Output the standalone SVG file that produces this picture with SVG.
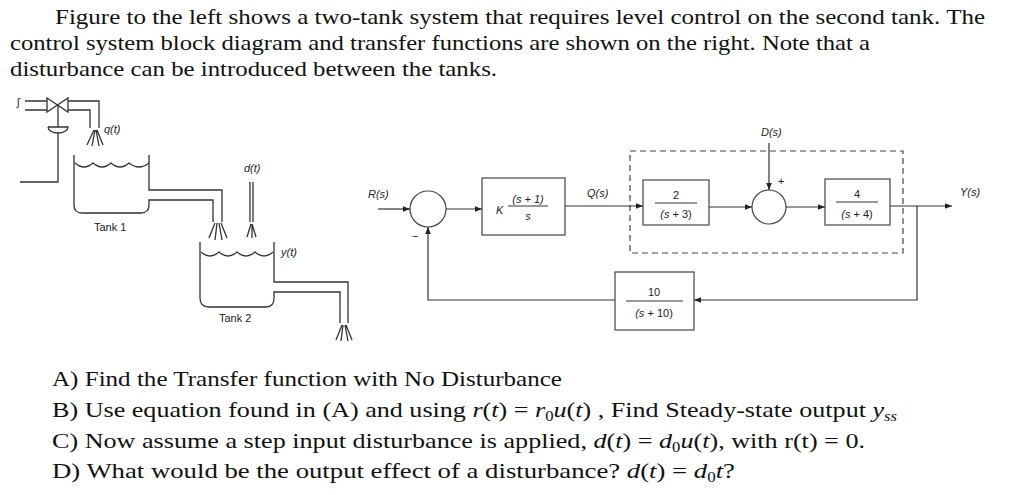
<svg xmlns="http://www.w3.org/2000/svg" width="1024" height="495" viewBox="0 0 1024 495">
<defs>
<marker id="ah" viewBox="0 0 10 10" refX="10" refY="5" markerWidth="7" markerHeight="7" orient="auto" markerUnits="userSpaceOnUse"><path d="M0,1 L10,5 L0,9 z" fill="#222"/></marker>
<style>
.t{font-family:"Liberation Serif",serif;font-size:22px;fill:#111}
.l{font-family:"Liberation Sans",Arial,sans-serif;font-size:11px;fill:#222}
.i{font-style:italic}
.s{stroke:#333;stroke-width:1.3;fill:none}
.b{stroke:#444;stroke-width:1.2;fill:#fff}
.c{stroke:#333;stroke-width:1.2;fill:none}
</style>
</defs>
<rect width="1024" height="495" fill="#fff"/>
<text class="t" x="55" y="24" textLength="930" lengthAdjust="spacingAndGlyphs">Figure to the left shows a two-tank system that requires level control on the second tank. The</text>
<text class="t" x="10" y="50" textLength="860" lengthAdjust="spacingAndGlyphs">control system block diagram and transfer functions are shown on the right. Note that a</text>
<text class="t" x="10" y="76" textLength="487" lengthAdjust="spacingAndGlyphs">disturbance can be introduced between the tanks.</text>

<g id="tanks">
<path class="s" d="M25,101 H47 M25,110 H47"/>
<text class="l" x="17" y="106" font-size="10">ʃ</text>
<path class="s" d="M47,98 L68,112 L68,98 L47,112 Z"/>
<path class="s" d="M68,101 H99 V128 M68,110 H90 V128"/>
<path class="s" d="M58,105 V127 M48,127 H68 A10,6 0 0 1 48,127 M58,133 V182 H20"/>
<path class="s" d="M94,130 L87,145 M95,130 L92,146 M96,130 L99,146 M97,130 L103,145"/>
<text class="l i" x="104" y="133">q(t)</text>
<path class="s" d="M74,155 V205 Q74,213 82,213 H141 Q149,213 149,205 V200 H213 V222 M149,155 V190 H222 V222"/>
<path class="s" d="M75,163 q9,8 18,0 q9,8 18,0 q9,8 18,0 q10,8 20,0"/>
<path class="s" d="M215,223 L209,238 M217,223 L215,240 M219,223 L222,240 M221,223 L227,238"/>
<text class="l" x="94" y="231">Tank 1</text>
<text class="l i" x="244" y="172">d(t)</text>
<path class="s" d="M250,182 V222 M253,182 V222"/>
<path class="s" d="M251,224 L247,237 M252,224 L252,238 M252,224 L256,237"/>
<path class="s" d="M200,242 V298 Q200,307 209,307 H266 Q274,307 274,298 V292 H340 V323 M274,242 V282 H348 V323"/>
<path class="s" d="M201,252 q9,8 18,0 q9,8 18,0 q9,8 18,0 q9,8 18,0"/>
<path class="s" d="M342,325 L336,340 M343,325 L341,341 M345,325 L348,341 M346,325 L352,340"/>
<text class="l i" x="281" y="256">y(t)</text>
<text class="l" x="219" y="322">Tank 2</text>
</g>

<g id="dashed"><rect x="630" y="151" width="273" height="102" fill="none" stroke="#444" stroke-width="1.2" stroke-dasharray="6,4"/></g>
<g id="sum1"><circle class="b" cx="428" cy="209" r="18"/></g>
<g id="K"><rect class="b" x="482" y="178" width="83" height="57"/>
<text class="l i" x="496" y="214" font-size="13">K</text>
<text class="l i" x="528" y="203" text-anchor="middle" font-size="12">(s + 1)</text>
<line x1="508" y1="206" x2="548" y2="206" stroke="#333"/>
<text class="l i" x="528" y="220" text-anchor="middle" font-size="12">s</text></g>
<g id="G1"><rect class="b" x="643" y="180" width="66" height="45"/>
<text class="l" x="676" y="199" text-anchor="middle" font-size="12">2</text>
<line x1="655" y1="203" x2="697" y2="203" stroke="#333"/>
<text class="l" x="676" y="218" text-anchor="middle" font-size="12"><tspan class="i">(s</tspan> + 3)</text></g>
<g id="sum2"><circle class="b" cx="769" cy="207" r="17"/></g>
<g id="G2"><rect class="b" x="825" y="179" width="65" height="46"/>
<text class="l" x="857" y="198" text-anchor="middle" font-size="12">4</text>
<line x1="836" y1="202" x2="878" y2="202" stroke="#333"/>
<text class="l" x="857" y="218" text-anchor="middle" font-size="12"><tspan class="i">(s</tspan> + 4)</text></g>
<g id="H"><rect class="b" x="615" y="272" width="79" height="58"/>
<text class="l" x="654" y="296" text-anchor="middle" font-size="12">10</text>
<line x1="626" y1="301" x2="683" y2="301" stroke="#333"/>
<text class="l" x="654" y="317" text-anchor="middle" font-size="12"><tspan class="i">(s</tspan> + 10)</text></g>

<g id="connectors">
<line class="c" x1="378" y1="209" x2="410" y2="209" marker-end="url(#ah)"/>
<line class="c" x1="446" y1="209" x2="482" y2="209" marker-end="url(#ah)"/>
<line class="c" x1="565" y1="206" x2="643" y2="206" marker-end="url(#ah)"/>
<line class="c" x1="709" y1="207" x2="752" y2="207" marker-end="url(#ah)"/>
<line class="c" x1="786" y1="207" x2="825" y2="207" marker-end="url(#ah)"/>
<line class="c" x1="890" y1="206" x2="952" y2="206" marker-end="url(#ah)"/>
<line class="c" x1="769" y1="143" x2="769" y2="190" marker-end="url(#ah)"/>
<path class="c" d="M917,206 V300 H694" marker-end="url(#ah)"/>
<path class="c" d="M615,300 H428 V227" marker-end="url(#ah)"/>
</g>
<text class="l i" x="368" y="198">R(s)</text>
<text class="l" x="412" y="240">−</text>
<text class="l i" x="587" y="197">Q(s)</text>
<text class="l i" x="761" y="136">D(s)</text>
<text class="l" x="778" y="185" font-size="10">+</text>
<text class="l i" x="960" y="196">Y(s)</text>

<text class="t" x="52" y="386" textLength="510" lengthAdjust="spacingAndGlyphs">A) Find the Transfer function with No Disturbance</text>
<text class="t" x="52" y="417" textLength="845" lengthAdjust="spacingAndGlyphs">B) Use equation found in (A) and using <tspan font-style="italic">r</tspan>(<tspan font-style="italic">t</tspan>) = <tspan font-style="italic">r</tspan><tspan font-size="14" dy="4">0</tspan><tspan dy="-4" font-style="italic">u</tspan>(<tspan font-style="italic">t</tspan>) , Find Steady-state output <tspan font-style="italic">y</tspan><tspan font-size="14" dy="4" font-style="italic">ss</tspan></text>
<text class="t" x="52" y="448" textLength="813" lengthAdjust="spacingAndGlyphs">C) Now assume a step input disturbance is applied, <tspan font-style="italic">d</tspan>(<tspan font-style="italic">t</tspan>) = <tspan font-style="italic">d</tspan><tspan font-size="14" dy="4">0</tspan><tspan dy="-4" font-style="italic">u</tspan>(<tspan font-style="italic">t</tspan>), with r(t) = 0.</text>
<text class="t" x="52" y="478" textLength="683" lengthAdjust="spacingAndGlyphs">D) What would be the output effect of a disturbance? <tspan font-style="italic">d</tspan>(<tspan font-style="italic">t</tspan>) = <tspan font-style="italic">d</tspan><tspan font-size="14" dy="4">0</tspan><tspan dy="-4" font-style="italic">t</tspan>?</text>
</svg>
